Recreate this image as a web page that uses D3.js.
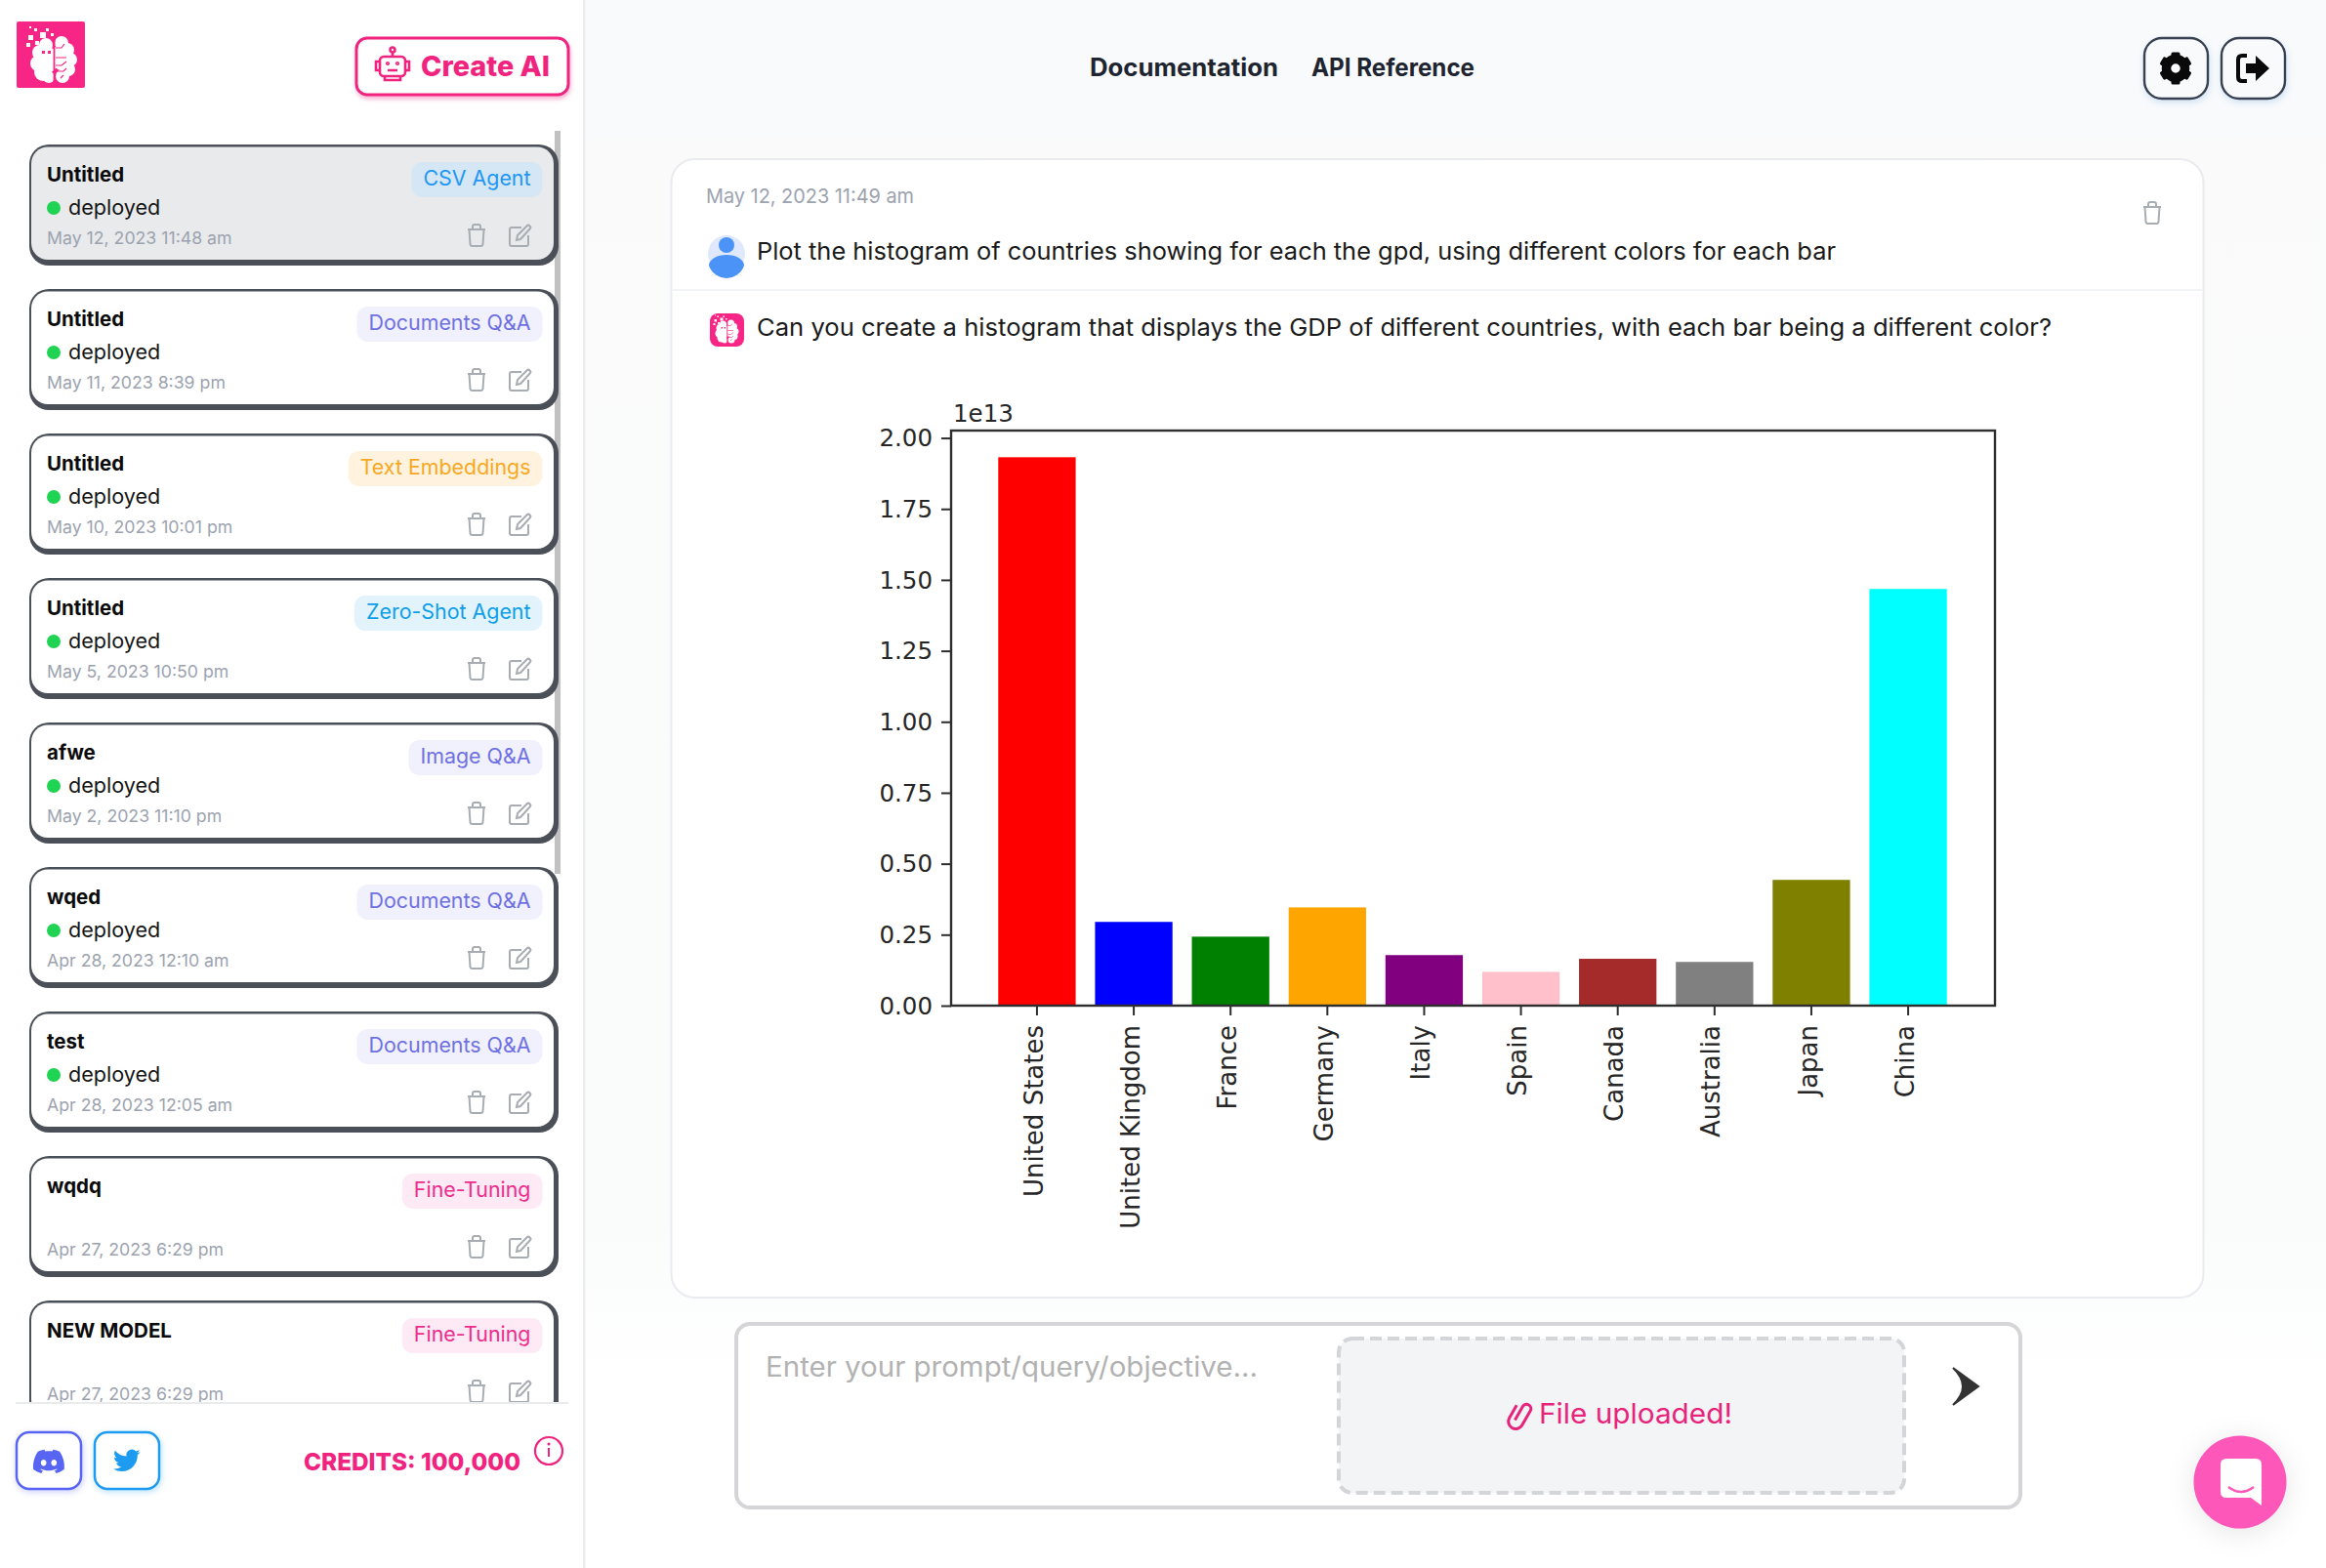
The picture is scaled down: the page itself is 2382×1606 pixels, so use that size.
<![CDATA[<!DOCTYPE html>
<html>
<head>
    <meta charset="utf-8" />
    <title>GDP by country chat</title>
    <style>
    	html, body { margin: 0; padding: 0; background: #fff; }
    	svg { display: block; }
    	text { font-family: Inter, "Noto Sans", sans-serif; }
    	.mpl text { font-family: "DejaVu Sans", sans-serif; fill: #262626; }
    </style>
</head>
<body>
<script src="https://d3js.org/d3.v7.min.js"></script>
<script>

	// chart values, read off the picture
	var countries = ["United States", "United Kingdom", "France", "Germany", "Italy", "Spain", "Canada", "Australia", "Japan", "China"];
	var gdp = [19.32e12, 2.95e12, 2.43e12, 3.46e12, 1.78e12, 1.19e12, 1.65e12, 1.54e12, 4.43e12, 14.68e12];
	var barColors = ["red", "blue", "green", "orange", "purple", "pink", "brown", "gray", "olive", "cyan"];
	var yTicks = [0, 0.25e13, 0.5e13, 0.75e13, 1e13, 1.25e13, 1.5e13, 1.75e13, 2e13];
	var yTickLabels = ["0.00", "0.25", "0.50", "0.75", "1.00", "1.25", "1.50", "1.75", "2.00"];

	// sidebar list
	var cardTitles = ["Untitled", "Untitled", "Untitled", "Untitled", "afwe", "wqed", "test", "wqdq", "NEW MODEL"];
	var cardStatus = ["deployed", "deployed", "deployed", "deployed", "deployed", "deployed", "deployed", "", ""];
	var cardDates = ["May 12, 2023 11:48 am", "May 11, 2023 8:39 pm", "May 10, 2023 10:01 pm", "May 5, 2023 10:50 pm", "May 2, 2023 11:10 pm", "Apr 28, 2023 12:10 am", "Apr 28, 2023 12:05 am", "Apr 27, 2023 6:29 pm", "Apr 27, 2023 6:29 pm"];
	var cardTags = ["CSV Agent", "Documents Q&A", "Text Embeddings", "Zero-Shot Agent", "Image Q&A", "Documents Q&A", "Documents Q&A", "Fine-Tuning", "Fine-Tuning"];

	var tagStyle = {
		"CSV Agent": ["#d5e7f5", "#2196f3"],
		"Documents Q&A": ["#f0f1fd", "#6f70e2"],
		"Image Q&A": ["#f0f1fd", "#6f70e2"],
		"Text Embeddings": ["#fff3df", "#f7a823"],
		"Zero-Shot Agent": ["#e2f3fc", "#0e9fe8"],
		"Fine-Tuning": ["#fdeaf4", "#ec2d8c"]
	};

	var pink = "#f0247f";
	var width = 2382;
	var height = 1606;

	var svg = d3.select("body").append("svg")
				.attr("width", width)
				.attr("height", height);

	var defs = svg.append("defs");

	var bgGrad = defs.append("linearGradient")
					 .attr("id", "mainBg")
					 .attr("x1", 0).attr("x2", 0).attr("y1", 0).attr("y2", 1);
	bgGrad.append("stop").attr("offset", "0%").attr("stop-color", "#fafafb");
	bgGrad.append("stop").attr("offset", "78%").attr("stop-color", "#fafbfb");
	bgGrad.append("stop").attr("offset", "88%").attr("stop-color", "#ffffff");

	defs.append("clipPath").attr("id", "listClip")
		.append("rect").attr("x", 0).attr("y", 134).attr("width", 598).attr("height", 1302);

	function label(parent, x, y, str, size, color, weight, fit) {
		var t = parent.append("text")
					  .attr("x", x)
					  .attr("y", y)
					  .attr("font-size", size)
					  .attr("fill", color)
					  .attr("font-weight", weight || 400)
					  .text(str);
		if (fit) {
			t.attr("textLength", fit).attr("lengthAdjust", "spacingAndGlyphs");
		}
		return t;
	}

	function trashIcon(parent, x, y) {
		var g = parent.append("g")
					  .attr("transform", "translate(" + x + "," + y + ")")
					  .attr("fill", "none")
					  .attr("stroke", "#a8adb3")
					  .attr("stroke-width", 2);
		g.append("path").attr("d", "M-7.5 -6 L-6.5 9 Q-6.3 11 -4.5 11 L4.5 11 Q6.3 11 6.5 9 L7.5 -6");
		g.append("path").attr("d", "M-9 -6 L9 -6 M-4 -6 L-4 -9 Q-4 -11 -2 -11 L2 -11 Q4 -11 4 -9 L4 -6");
	}

	function editIcon(parent, x, y) {
		var g = parent.append("g")
					  .attr("transform", "translate(" + x + "," + y + ")")
					  .attr("fill", "none")
					  .attr("stroke", "#a8adb3")
					  .attr("stroke-width", 2);
		g.append("path").attr("d", "M2 -8 L-8 -8 Q-10 -8 -10 -6 L-10 9 Q-10 11 -8 11 L7 11 Q9 11 9 9 L9 0");
		g.append("path").attr("d", "M-3 5 L-2 0 L8 -10 Q9 -11 10.5 -9.5 L11 -9 Q12 -8 11 -7 L1 4 Z");
	}

	function brain(parent, x, y, k) {
		var g = parent.append("g")
					  .attr("transform", "translate(" + x + "," + y + ") scale(" + k + ")");
		var lobes = [[-8,-14,7],[-14,-6,8],[-16,5,8],[-11,14,9],[-5,6,8],[-4,-4,7],[-5,19,6],
					 [8,-16,7],[14,-9,7],[17,1,7],[15,11,7],[9,18,7],[8,4,8],[7,-6,8]];
		g.selectAll("circle.lobe")
		 .data(lobes)
		 .enter().append("circle")
		 .attr("cx", d => d[0])
		 .attr("cy", d => d[1])
		 .attr("r", d => d[2])
		 .attr("fill", "#fff");
		g.append("line").attr("x1", 0.5).attr("x2", 0.5).attr("y1", -24).attr("y2", 26).attr("stroke", "#f72585").attr("stroke-width", 1.8);
		g.append("path")
		 .attr("d", "M2 -11 L8 -11 L11 -15 M2 -1 L13 -1 M13 3 L8 7 L2 7 M2 13 L10 13 L13 10 M7 20 L10 17")
		 .attr("fill", "none").attr("stroke", "#f72585").attr("stroke-width", 1.2);
		var bits = [[-26,-24,5],[-20,-31,3],[-14,-27,6],[-28,-16,4],[-19,-18,4],[-8,-31,3],[-3,-26,3],[-25,-33,2],[-12,-20,3],[-12,-8,3],[-6,-8,3]];
		g.selectAll("rect.bit")
		 .data(bits)
		 .enter().append("rect")
		 .attr("x", d => d[0])
		 .attr("y", d => d[1])
		 .attr("width", d => d[2])
		 .attr("height", d => d[2])
		 .attr("fill", (d, i) => i > 8 ? "#f72585" : "#fff");
	}

	// page backgrounds
	svg.append("rect").attr("x", 600).attr("y", 0).attr("width", width - 600).attr("height", height).attr("fill", "url(#mainBg)");
	svg.append("rect").attr("x", 600).attr("y", 0).attr("width", width - 600).attr("height", 142).attr("fill", "#f8fafc");
	svg.append("rect").attr("x", 597).attr("y", 0).attr("width", 2.5).attr("height", height).attr("fill", "#ececee");

	// sidebar top
	svg.append("rect").attr("x", 17).attr("y", 22).attr("width", 70).attr("height", 68).attr("rx", 2).attr("fill", "#f72585");
	brain(svg, 55, 60, 1);

	svg.append("rect")
	   .attr("x", 365).attr("y", 39).attr("width", 217).attr("height", 58).attr("rx", 11)
	   .attr("fill", "#fff").attr("stroke", pink).attr("stroke-width", 3)
	   .style("filter", "drop-shadow(1px 3px 2px rgba(240,36,127,0.35))");
	var robot = svg.append("g")
				   .attr("transform", "translate(402,67)")
				   .attr("fill", "none").attr("stroke", pink).attr("stroke-width", 2.6);
	robot.append("rect").attr("x", -13).attr("y", -9).attr("width", 26).attr("height", 20).attr("rx", 4);
	robot.append("path").attr("d", "M0 -9 L0 -14 M-13 -4 L-17 -4 L-17 5 L-13 5 M13 -4 L17 -4 L17 5 L13 5 M-8 11 L-8 15 L8 15 L8 11 M-5 5 L5 5");
	robot.append("circle").attr("cx", 0).attr("cy", -16).attr("r", 2.5);
	robot.append("circle").attr("cx", -5).attr("cy", -2).attr("r", 0.8);
	robot.append("circle").attr("cx", 5).attr("cy", -2).attr("r", 0.8);
	label(svg, 431, 78, "Create AI", 28, pink, 800, 132);

	// model list
	svg.append("rect").attr("x", 568).attr("y", 134).attr("width", 6).attr("height", 761).attr("fill", "#c1c1c1");

	var list = svg.append("g").attr("clip-path", "url(#listClip)");
	var cardY = d3.scaleLinear().domain([0, 1]).range([148, 296]);

	var cards = list.selectAll("g.card")
					.data(cardTitles)
					.enter().append("g")
					.attr("class", "card")
					.attr("transform", (d, i) => "translate(30," + cardY(i) + ")");

	// outer shape is the dark border, thicker at the bottom and right
	cards.append("rect")
		 .attr("width", 542).attr("height", 124).attr("rx", 20)
		 .attr("fill", "#4b5058");
	cards.append("rect")
		 .attr("x", 2).attr("y", 2.5).attr("width", 535).attr("height", 115.5).attr("rx", 17)
		 .attr("fill", (d, i) => i == 0 ? "#e8eaec" : "#fff");

	cards.each(function(title, i) {
		var c = d3.select(this);
		label(c, 18, 38, title, 20.5, "#0b0b0b", 700);
		if (cardStatus[i]) {
			c.append("circle").attr("cx", 25).attr("cy", 65).attr("r", 7).attr("fill", "#21d353");
			label(c, 40, 72, cardStatus[i], 21.6, "#151515");
		}
		label(c, 18, 102, cardDates[i], 17.7, "#9ca3af");

		var style = tagStyle[cardTags[i]];
		var tagRect = c.append("rect")
					   .attr("y", 18).attr("height", 36).attr("rx", 11)
					   .attr("fill", style[0]);
		var tagText = label(c, 513.5, 42, cardTags[i], 21.4, style[1]).attr("text-anchor", "end");
		var w = tagText.node().getComputedTextLength();
		tagRect.attr("x", 525.5 - w - 24).attr("width", w + 24);

		trashIcon(c, 458, 93);
		editIcon(c, 502, 93);
	});

	// sidebar bottom
	svg.append("rect").attr("x", 16).attr("y", 1436).attr("width", 566).attr("height", 2).attr("fill", "#eaebed");
	svg.append("rect").attr("x", 0).attr("y", 1438).attr("width", 597).attr("height", 168).attr("fill", "#fff");

	svg.append("rect")
	   .attr("x", 17).attr("y", 1467).attr("width", 66).attr("height", 58).attr("rx", 13)
	   .attr("fill", "#fff").attr("stroke", "#5865f2").attr("stroke-width", 2.5)
	   .style("filter", "drop-shadow(1px 2px 3px rgba(88,101,242,0.3))");
	svg.append("path")
	   .attr("transform", "translate(34,1481) scale(1.33)")
	   .attr("fill", "#5865f2")
	   .attr("d", "M20.317 4.3698a19.7913 19.7913 0 00-4.8851-1.5152.0741.0741 0 00-.0785.0371c-.211.3753-.4447.8648-.6083 1.2495-1.8447-.2762-3.68-.2762-5.4868 0-.1636-.3933-.4058-.8742-.6177-1.2495a.077.077 0 00-.0785-.037 19.7363 19.7363 0 00-4.8852 1.515.0699.0699 0 00-.0321.0277C.5334 9.0458-.319 13.5799.0992 18.0578a.0824.0824 0 00.0312.0561c2.0528 1.5076 4.0413 2.4228 5.9929 3.0294a.0777.0777 0 00.0842-.0276c.4616-.6304.8731-1.2952 1.226-1.9942a.076.076 0 00-.0416-.1057c-.6528-.2476-1.2743-.5495-1.8722-.8923a.077.077 0 01-.0076-.1277c.1258-.0943.2517-.1923.3718-.2914a.0743.0743 0 01.0776-.0105c3.9278 1.7933 8.18 1.7933 12.0614 0a.0739.0739 0 01.0785.0095c.1202.099.246.1981.3728.2924a.077.077 0 01-.0066.1276 12.2986 12.2986 0 01-1.873.8914.0766.0766 0 00-.0407.1067c.3604.698.7719 1.3628 1.225 1.9932a.076.076 0 00.0842.0286c1.961-.6067 3.9495-1.5219 6.0023-3.0294a.077.077 0 00.0313-.0552c.5004-5.177-.8382-9.6739-3.5485-13.6604a.061.061 0 00-.0312-.0286zM8.02 15.3312c-1.1825 0-2.1569-1.0857-2.1569-2.419 0-1.3332.9555-2.4189 2.157-2.4189 1.2108 0 2.1757 1.0952 2.1568 2.419 0 1.3332-.9555 2.4189-2.1569 2.4189zm7.9748 0c-1.1825 0-2.1569-1.0857-2.1569-2.419 0-1.3332.9554-2.4189 2.1569-2.4189 1.2108 0 2.1757 1.0952 2.1568 2.419 0 1.3332-.946 2.4189-2.1568 2.4189Z");

	svg.append("rect")
	   .attr("x", 97).attr("y", 1467).attr("width", 66).attr("height", 58).attr("rx", 13)
	   .attr("fill", "#fff").attr("stroke", "#1d9bf0").attr("stroke-width", 2.5)
	   .style("filter", "drop-shadow(1px 2px 3px rgba(29,155,240,0.3))");
	svg.append("path")
	   .attr("transform", "translate(116,1482) scale(1.15)")
	   .attr("fill", "#1d9bf0")
	   .attr("d", "M23.953 4.57a10 10 0 01-2.825.775 4.958 4.958 0 002.163-2.723c-.951.555-2.005.959-3.127 1.184a4.92 4.92 0 00-8.384 4.482C7.69 8.095 4.067 6.13 1.64 3.162a4.822 4.822 0 00-.666 2.475c0 1.71.87 3.213 2.188 4.096a4.904 4.904 0 01-2.228-.616v.06a4.923 4.923 0 003.946 4.827 4.996 4.996 0 01-2.212.085 4.936 4.936 0 004.604 3.417 9.867 9.867 0 01-6.102 2.105c-.39 0-.779-.023-1.17-.067a13.995 13.995 0 007.557 2.209c9.053 0 13.998-7.496 13.998-13.985 0-.21 0-.42-.015-.63A9.935 9.935 0 0024 4.59z");

	label(svg, 311, 1506, "CREDITS: 100,000", 25, pink, 800, 222);
	svg.append("circle").attr("cx", 562).attr("cy", 1486).attr("r", 14).attr("fill", "none").attr("stroke", pink).attr("stroke-width", 2.2);
	svg.append("circle").attr("cx", 562).attr("cy", 1479).attr("r", 1.5).attr("fill", pink);
	svg.append("rect").attr("x", 561).attr("y", 1483).attr("width", 2).attr("height", 9).attr("fill", pink);

	// top nav
	label(svg, 1116, 78, "Documentation", 25, "#1f2530", 700, 193);
	label(svg, 1343, 78, "API Reference", 25, "#1f2530", 700, 167);

	var navBtns = [2196, 2275];
	svg.selectAll("rect.nav")
	   .data(navBtns)
	   .enter().append("rect")
	   .attr("x", d => d).attr("y", 39).attr("width", 65).attr("height", 62).attr("rx", 18)
	   .attr("fill", "#f8fafc").attr("stroke", "#374151").attr("stroke-width", 2.4)
	   .style("filter", "drop-shadow(1px 3px 3px rgba(100,160,220,0.25))");

	var gear = svg.append("g").attr("transform", "translate(2228,70)");
	gear.append("circle").attr("r", 9.5).attr("fill", "none").attr("stroke", "#0a0a0a").attr("stroke-width", 9.5);
	d3.range(6).forEach(function(i) {
		gear.append("rect")
			.attr("x", -4.5).attr("y", -16.5).attr("width", 9).attr("height", 7).attr("rx", 1.5)
			.attr("fill", "#0a0a0a")
			.attr("transform", "rotate(" + i * 60 + ")");
	});
	var logout = svg.append("g").attr("transform", "translate(2308,70)");
	logout.append("path")
		  .attr("d", "M-7 -13 L-12 -13 Q-16 -13 -16 -9 L-16 9 Q-16 13 -12 13 L-7 13")
		  .attr("fill", "none").attr("stroke", "#0a0a0a").attr("stroke-width", 4);
	logout.append("path")
		  .attr("d", "M-8 -5 L2 -5 L2 -13 L16 0 L2 13 L2 5 L-8 5 Z")
		  .attr("fill", "#0a0a0a");

	// chat panel
	svg.append("rect")
	   .attr("x", 687.5).attr("y", 163).attr("width", 1569).attr("height", 1166).attr("rx", 24)
	   .attr("fill", "#fff").attr("stroke", "#e9ebee").attr("stroke-width", 2);
	label(svg, 723, 208, "May 12, 2023 11:49 am", 20.5, "#9ca3af", 400, 213);
	trashIcon(svg, 2204, 218);

	svg.append("circle").attr("cx", 744).attr("cy", 260).attr("r", 19).attr("fill", "#dfe9fb");
	svg.append("circle").attr("cx", 744).attr("cy", 251).attr("r", 8).attr("fill", "#4b93f7");
	svg.append("path").attr("d", "M726 272 A18 11 0 0 1 762 272 A19 19 0 0 1 726 272 Z").attr("fill", "#4b93f7");
	label(svg, 775, 266, "Plot the histogram of countries showing for each the gpd, using different colors for each bar", 24.5, "#1a1a1a", 400, 1105);

	svg.append("rect").attr("x", 688).attr("y", 296).attr("width", 1568).attr("height", 2).attr("fill", "#f3f4f6");

	svg.append("rect").attr("x", 727).attr("y", 321).attr("width", 35).attr("height", 34).attr("rx", 8).attr("fill", "#f72585");
	brain(svg, 744.5, 339, 0.5);
	label(svg, 775, 344, "Can you create a histogram that displays the GDP of different countries, with each bar being a different color?", 24.5, "#1a1a1a", 400, 1326);

	// the bar chart itself
	var chart = svg.append("g").attr("class", "mpl");

	var plot = {left: 974, right: 2043, top: 441, bottom: 1030};

	var xScaler = d3.scaleBand()
					.domain(countries)
					.range([plot.left, plot.right])
					.paddingInner(0.2)
					.paddingOuter(0.492)
					.align(0.495);

	var yScaler = d3.scaleLinear()
					.domain([0, 2.026e13])
					.range([plot.bottom, plot.top]);

	chart.selectAll("rect.bar")
		 .data(countries)
		 .enter().append("rect")
		 .attr("class", "bar")
		 .attr("x", d => xScaler(d))
		 .attr("width", xScaler.bandwidth())
		 .attr("y", (d, i) => yScaler(gdp[i]))
		 .attr("height", (d, i) => plot.bottom - yScaler(gdp[i]))
		 .attr("fill", (d, i) => barColors[i]);

	chart.append("rect")
		 .attr("x", plot.left).attr("y", plot.top)
		 .attr("width", plot.right - plot.left).attr("height", plot.bottom - plot.top)
		 .attr("fill", "none").attr("stroke", "#2e2e2e").attr("stroke-width", 2.4);

	var yAxis = d3.axisLeft(yScaler)
				  .tickValues(yTicks)
				  .tickFormat((d, i) => yTickLabels[i])
				  .tickSize(10)
				  .tickPadding(9);

	var yView = chart.append("g")
					 .attr("transform", "translate(" + plot.left + ",0)")
					 .call(yAxis);
	yView.select(".domain").remove();
	yView.selectAll("line").attr("stroke", "#2e2e2e").attr("stroke-width", 2);
	yView.selectAll("text").attr("font-size", 24.5).attr("dy", ".34em");

	var xAxis = d3.axisBottom(xScaler).tickSize(10);

	var xView = chart.append("g")
					 .attr("transform", "translate(0," + plot.bottom + ")")
					 .call(xAxis);
	xView.select(".domain").remove();
	xView.selectAll("line").attr("stroke", "#2e2e2e").attr("stroke-width", 2);
	xView.selectAll("text")
		 .attr("font-size", 26)
		 .attr("text-anchor", "end")
		 .attr("transform", "rotate(-90)")
		 .attr("x", -20)
		 .attr("y", -3.5)
		 .attr("dy", ".35em");

	chart.append("text")
		 .attr("x", 976).attr("y", 432)
		 .attr("font-size", 24.5)
		 .text("1e13");

	// prompt box
	svg.append("rect")
	   .attr("x", 754).attr("y", 1356).attr("width", 1315).attr("height", 188).attr("rx", 14)
	   .attr("fill", "#fff").attr("stroke", "#d5d5d7").attr("stroke-width", 4);
	label(svg, 784, 1410, "Enter your prompt/query/objective...", 28, "#b2b2b2", 400, 504);

	svg.append("rect")
	   .attr("x", 1371).attr("y", 1371).attr("width", 579).attr("height", 158).attr("rx", 14)
	   .attr("fill", "#f3f4f6").attr("stroke", "#d4d5d8").attr("stroke-width", 4).attr("stroke-dasharray", "12 6");
	svg.append("path")
	   .attr("transform", "translate(1558,1449) rotate(30)")
	   .attr("fill", "none").attr("stroke", "#e8237b").attr("stroke-width", 3)
	   .attr("d", "M-3 8 L-3 -8 A4.5 4.5 0 0 1 6 -8 L6 9 A7.5 7.5 0 0 1 -9 9 L-9 -6");
	label(svg, 1576, 1458, "File uploaded!", 29, "#e8237b", 400, 198);

	svg.append("path")
	   .attr("d", "M2000 1401 L2026 1420 L2000 1439 Q2020 1420 2000 1401 Z")
	   .attr("fill", "#333").attr("stroke", "#333").attr("stroke-width", 2);

	// chat launcher
	svg.append("circle")
	   .attr("cx", 2294).attr("cy", 1518).attr("r", 47.5)
	   .attr("fill", "#fd57b9")
	   .style("filter", "drop-shadow(0 4px 14px rgba(0,0,0,0.10))");
	svg.append("path")
	   .attr("d", "M2280 1494 L2310 1494 Q2316 1494 2316 1500 L2316 1542 L2305 1534 L2280 1534 Q2274 1534 2274 1528 L2274 1500 Q2274 1494 2280 1494 Z")
	   .attr("fill", "#fff");
	svg.append("path")
	   .attr("d", "M2282 1523 Q2295 1533 2308 1523")
	   .attr("fill", "none").attr("stroke", "#fd57b9").attr("stroke-width", 2.4);

</script>
</body>
</html>
]]>
